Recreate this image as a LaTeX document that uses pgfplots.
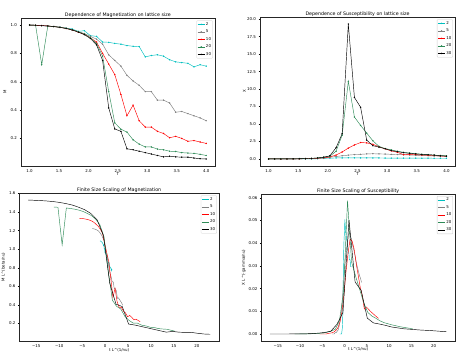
\documentclass[border=0pt]{standalone}
\usepackage{fontspec}
\setmainfont{DejaVu Sans}
\usepackage{pgfplots}
\usepackage{pgfplotstable}
\pgfplotsset{compat=1.18}
\definecolor{cC}{HTML}{00BFBF}
\definecolor{cG}{HTML}{808080}
\definecolor{cR}{HTML}{FF0000}
\definecolor{cS}{HTML}{2E8B57}
\definecolor{cK}{HTML}{000000}
\newcommand{\caret}{\textasciicircum{}}

\pgfplotstableread{
T m2 m5 m10 m20 m30
1.000 1.000 1.000 1.000 1.000 1.000
1.103 0.998 0.998 0.998 0.998 0.998
1.207 0.995 0.996 0.996 0.720 0.996
1.310 0.992 0.993 0.993 0.993 0.993
1.414 0.989 0.989 0.989 0.989 0.989
1.517 0.985 0.984 0.984 0.984 0.983
1.621 0.978 0.977 0.976 0.977 0.975
1.724 0.972 0.967 0.966 0.967 0.965
1.828 0.955 0.953 0.950 0.953 0.950
1.931 0.960 0.940 0.935 0.937 0.932
2.034 0.925 0.920 0.910 0.910 0.905
2.138 0.920 0.900 0.880 0.870 0.860
2.241 0.880 0.865 0.800 0.780 0.750
2.345 0.878 0.790 0.725 0.530 0.415
2.448 0.870 0.750 0.650 0.310 0.267
2.552 0.865 0.710 0.510 0.265 0.250
2.655 0.855 0.645 0.360 0.245 0.127
2.759 0.850 0.605 0.435 0.190 0.120
2.862 0.848 0.575 0.325 0.160 0.110
2.966 0.775 0.530 0.280 0.140 0.100
3.069 0.785 0.530 0.280 0.140 0.090
3.172 0.790 0.470 0.250 0.125 0.080
3.276 0.780 0.470 0.235 0.120 0.070
3.379 0.755 0.450 0.205 0.110 0.075
3.483 0.740 0.385 0.215 0.108 0.070
3.586 0.735 0.390 0.200 0.100 0.068
3.690 0.730 0.375 0.180 0.097 0.068
3.793 0.705 0.360 0.185 0.095 0.062
3.897 0.720 0.345 0.175 0.088 0.057
4.000 0.710 0.325 0.165 0.080 0.055
}\magtable

\pgfplotstableread{
T c2 c5 c10 c20 c30
1.000 0.00 0.00 0.00 0.00 0.00
1.103 0.00 0.00 0.00 0.00 0.00
1.207 0.00 0.00 0.00 0.02 0.00
1.310 0.00 0.01 0.00 0.01 0.01
1.414 0.00 0.01 0.01 0.02 0.02
1.517 0.00 0.02 0.02 0.03 0.03
1.621 0.005 0.03 0.03 0.05 0.05
1.724 0.01 0.06 0.05 0.08 0.08
1.828 0.03 0.10 0.09 0.15 0.14
1.931 0.08 0.16 0.16 0.25 0.25
2.034 0.12 0.25 0.30 0.40 0.45
2.138 0.14 0.35 0.55 1.10 1.60
2.241 0.15 0.45 1.00 3.40 3.60
2.345 0.17 0.55 1.55 11.10 19.30
2.448 0.16 0.62 2.00 6.00 8.80
2.552 0.15 0.66 2.35 4.80 7.40
2.655 0.15 0.72 2.30 3.70 2.70
2.759 0.14 0.75 2.10 2.60 1.90
2.862 0.14 0.72 1.75 1.80 1.70
2.966 0.13 0.70 1.45 1.50 1.45
3.069 0.13 0.66 1.15 1.30 1.20
3.172 0.12 0.63 0.95 1.10 1.05
3.276 0.12 0.60 0.62 0.95 0.90
3.379 0.12 0.56 0.67 0.85 0.80
3.483 0.11 0.52 0.62 0.75 0.72
3.586 0.11 0.49 0.56 0.68 0.65
3.690 0.11 0.46 0.52 0.60 0.60
3.793 0.10 0.43 0.47 0.55 0.55
3.897 0.10 0.41 0.43 0.50 0.45
4.000 0.10 0.38 0.39 0.45 0.40
}\chitable

\pgfplotstableread{
x2 y2 x5 y5 x10 y10 x20 y20 x30 y30
-1.119 1.0905 -2.797 1.2228 -5.593 1.3335 -11.186 1.4542 -16.779 1.5298
-1.027 1.0883 -2.569 1.2204 -5.137 1.3308 -10.274 1.4513 -15.411 1.5267
-0.936 1.0850 -2.341 1.2179 -4.681 1.3282 -9.362 1.0470 -14.043 1.5237
-0.845 1.0818 -2.113 1.2142 -4.225 1.3242 -8.450 1.4440 -12.675 1.5191
-0.754 1.0785 -1.885 1.2094 -3.769 1.3188 -7.538 1.4382 -11.307 1.5130
-0.663 1.0741 -1.657 1.2032 -3.313 1.3122 -6.626 1.4309 -9.939 1.5038
-0.571 1.0665 -1.429 1.1947 -2.857 1.3015 -5.714 1.4208 -8.571 1.4916
-0.480 1.0600 -1.201 1.1824 -2.401 1.2882 -4.802 1.4062 -7.203 1.4763
-0.389 1.0414 -0.973 1.1653 -1.945 1.2668 -3.890 1.3859 -5.835 1.4533
-0.298 1.0469 -0.745 1.1494 -1.490 1.2468 -2.980 1.3626 -4.470 1.4258
-0.207 1.0087 -0.517 1.1250 -1.034 1.2135 -2.068 1.3233 -3.102 1.3845
-0.116 1.0033 -0.289 1.1005 -0.578 1.1735 -1.156 1.2652 -1.734 1.3156
-0.024 0.9596 -0.061 1.0577 -0.122 1.0668 -0.244 1.1343 -0.366 1.1474
0.067 0.9575 0.167 0.9660 0.334 0.9668 0.668 0.7707 1.002 0.6349
0.158 0.9487 0.395 0.9171 0.790 0.8668 1.580 0.4508 2.370 0.4085
0.249 0.9433 0.623 0.8682 1.246 0.6801 2.492 0.3854 3.738 0.3825
0.340 0.9324 0.851 0.7887 1.702 0.4801 3.404 0.3563 5.106 0.1943
0.432 0.9269 1.079 0.7398 2.158 0.5801 4.316 0.2763 6.474 0.1836
0.523 0.9247 1.307 0.7031 2.614 0.4334 5.228 0.2327 7.842 0.1683
0.614 0.8451 1.535 0.6481 3.070 0.3734 6.140 0.2036 9.210 0.1530
0.705 0.8560 1.763 0.6481 3.526 0.3734 7.052 0.2036 10.578 0.1377
0.796 0.8615 1.991 0.5747 3.982 0.3334 7.964 0.1818 11.946 0.1224
0.888 0.8506 2.219 0.5747 4.438 0.3134 8.876 0.1745 13.314 0.1071
0.979 0.8233 2.447 0.5503 4.893 0.2734 9.786 0.1600 14.679 0.1147
1.070 0.8070 2.675 0.4708 5.349 0.2867 10.698 0.1571 16.047 0.1071
1.161 0.8015 2.903 0.4769 5.805 0.2667 11.610 0.1454 17.415 0.1040
1.252 0.7961 3.131 0.4586 6.261 0.2400 12.522 0.1411 18.783 0.1040
1.343 0.7688 3.359 0.4402 6.717 0.2467 13.434 0.1381 20.151 0.0948
1.435 0.7852 3.587 0.4219 7.173 0.2334 14.346 0.1280 21.519 0.0872
1.526 0.7743 3.815 0.3974 7.629 0.2200 15.258 0.1163 22.887 0.0841
}\fssmag

\pgfplotstableread{
x2 y2 x5 y5 x10 y10 x20 y20 x30 y30
-1.119 0.0000 -2.797 0.0000 -5.593 0.0000 -11.186 0.0000 -16.779 0.0000
-1.027 0.0000 -2.569 0.0000 -5.137 0.0000 -10.274 0.0000 -15.411 0.0000
-0.936 0.0000 -2.341 0.0000 -4.681 0.0000 -9.362 0.0001 -14.043 0.0000
-0.845 0.0000 -2.113 0.0006 -4.225 0.0000 -8.450 0.0001 -12.675 0.0000
-0.754 0.0000 -1.885 0.0006 -3.769 0.0002 -7.538 0.0001 -11.307 0.0001
-0.663 0.0000 -1.657 0.0012 -3.313 0.0004 -6.626 0.0002 -9.939 0.0001
-0.571 0.0015 -1.429 0.0018 -2.857 0.0005 -5.714 0.0003 -8.571 0.0001
-0.480 0.0030 -1.201 0.0036 -2.401 0.0009 -4.802 0.0004 -7.203 0.0002
-0.389 0.0089 -0.973 0.0060 -1.945 0.0016 -3.890 0.0008 -5.835 0.0004
-0.298 0.0238 -0.745 0.0096 -1.490 0.0028 -2.980 0.0013 -4.470 0.0007
-0.207 0.0357 -0.517 0.0150 -1.034 0.0053 -2.068 0.0021 -3.102 0.0012
-0.116 0.0416 -0.289 0.0209 -0.578 0.0098 -1.156 0.0058 -1.734 0.0042
-0.024 0.0446 -0.061 0.0269 -0.122 0.0178 -0.244 0.0180 -0.366 0.0094
0.067 0.0505 0.167 0.0329 0.334 0.0276 0.668 0.0587 1.002 0.0502
0.158 0.0476 0.395 0.0371 0.790 0.0356 1.580 0.0317 2.370 0.0229
0.249 0.0446 0.623 0.0395 1.246 0.0418 2.492 0.0254 3.738 0.0192
0.340 0.0446 0.851 0.0431 1.702 0.0409 3.404 0.0196 5.106 0.0070
0.432 0.0416 1.079 0.0449 2.158 0.0373 4.316 0.0137 6.474 0.0049
0.523 0.0416 1.307 0.0431 2.614 0.0311 5.228 0.0095 7.842 0.0044
0.614 0.0386 1.535 0.0419 3.070 0.0258 6.140 0.0079 9.210 0.0038
0.705 0.0386 1.763 0.0395 3.526 0.0205 7.052 0.0069 10.578 0.0031
0.796 0.0357 1.991 0.0377 3.982 0.0169 7.964 0.0058 11.946 0.0027
0.888 0.0357 2.219 0.0359 4.438 0.0110 8.876 0.0050 13.314 0.0023
0.979 0.0357 2.447 0.0335 4.893 0.0119 9.786 0.0045 14.679 0.0021
1.070 0.0327 2.675 0.0311 5.349 0.0110 10.698 0.0040 16.047 0.0019
1.161 0.0327 2.903 0.0293 5.805 0.0100 11.610 0.0036 17.415 0.0017
1.252 0.0327 3.131 0.0275 6.261 0.0092 12.522 0.0032 18.783 0.0016
1.343 0.0297 3.359 0.0257 6.717 0.0084 13.434 0.0029 20.151 0.0014
1.435 0.0297 3.587 0.0245 7.173 0.0076 14.346 0.0026 21.519 0.0012
1.526 0.0297 3.815 0.0227 7.629 0.0069 15.258 0.0024 22.887 0.0010
}\fsschi

\pgfplotsset{
  panel/.style={
    scale only axis,
    axis line style={line width=0.3pt, black!85},
    tick style={line width=0.3pt, black},
    tick align=outside,
    major tick length=1.1pt,
    xtick pos=bottom, ytick pos=left,
    scaled ticks=false,
    font=\fontsize{3.95}{4.6}\selectfont,
    /pgf/number format/assume math mode=true,
    title style={font=\fontsize{4.75}{5.5}\selectfont, at={(axis description cs:0.5,1)}, anchor=base, yshift=-4.1pt, inner sep=0pt},
    xlabel style={font=\fontsize{3.95}{4.6}\selectfont, at={(axis description cs:0.5,0)}, anchor=base, yshift=-10.3pt, inner sep=0pt},
    ylabel style={font=\fontsize{3.95}{4.6}\selectfont, anchor=center, inner sep=0pt},
    xticklabel style={anchor=base, yshift=-5.8pt, inner sep=0pt},
    yticklabel style={anchor=east, xshift=-2.4pt, inner sep=0pt},
    legend style={at={(0.988,0.985)}, anchor=north east, draw=black!20,
      rounded corners=0.6pt, line width=0.3pt, fill=white,
      font=\fontsize{3.95}{4.6}\selectfont, inner sep=0.6pt,
      row sep=1.3pt, nodes={inner sep=0.9pt}},
    legend cell align=left,
    every axis plot/.append style={line width=0.45pt},
  },
  toplegend/.style={legend image code/.code={%
    \draw[mark repeat=2,mark phase=2] plot coordinates {(0pt,0pt) (3.6pt,0pt) (7.2pt,0pt)};}},
  botlegend/.style={legend image code/.code={%
    \draw plot coordinates {(0pt,0pt) (7.2pt,0pt)};}},
  dotmark/.style={mark=*, mark size=0.45pt},
}

\begin{document}
\begin{tikzpicture}
\useasboundingbox (0pt,0pt) rectangle (474pt,361pt);

% Top-left
\begin{axis}[panel, toplegend, at={(20.7pt,195.3pt)}, anchor=south west,
  width=194.3pt, height=147.4pt,
  xmin=0.85, xmax=4.15, ymin=0.0078, ymax=1.0473,
  xtick={1.0,1.5,2.0,2.5,3.0,3.5,4.0},
  xticklabels={1.0,1.5,2.0,2.5,3.0,3.5,4.0},
  ytick={0.2,0.4,0.6,0.8,1.0},
  yticklabels={0.2,0.4,0.6,0.8,1.0},
  ylabel style={at={(axis description cs:-0.081,0.5)}},
  title={Dependence of Magnetization on lattice size},
  xlabel={T}, ylabel={M}]
\addplot[cC, dotmark] table[x=T, y=m2] {\magtable};
\addplot[cG, dotmark] table[x=T, y=m5] {\magtable};
\addplot[cR, dotmark] table[x=T, y=m10] {\magtable};
\addplot[cS, dotmark] table[x=T, y=m20] {\magtable};
\addplot[cK, dotmark] table[x=T, y=m30] {\magtable};
\legend{2,5,10,20,30}
\end{axis}

% Top-right
\begin{axis}[panel, toplegend, at={(259.7pt,195.3pt)}, anchor=south west,
  width=195.6pt, height=148.4pt,
  xmin=0.85, xmax=4.15, ymin=-0.965, ymax=20.265,
  xtick={1.0,1.5,2.0,2.5,3.0,3.5,4.0},
  xticklabels={1.0,1.5,2.0,2.5,3.0,3.5,4.0},
  ytick={0,2.5,5,7.5,10,12.5,15,17.5,20},
  yticklabels={0.0,2.5,5.0,7.5,10.0,12.5,15.0,17.5,20.0},
  ylabel style={at={(axis description cs:-0.078,0.5)}},
  title={Dependence of Susceptibility on lattice size},
  xlabel={T}, ylabel={X}]
\addplot[cC, dotmark] table[x=T, y=c2] {\chitable};
\addplot[cG, dotmark] table[x=T, y=c5] {\chitable};
\addplot[cR, dotmark] table[x=T, y=c10] {\chitable};
\addplot[cS, dotmark] table[x=T, y=c20] {\chitable};
\addplot[cK, dotmark] table[x=T, y=c30] {\chitable};
\legend{2,5,10,20,30}
\end{axis}

% Bottom-left
\begin{axis}[panel, botlegend, at={(19pt,20pt)}, anchor=south west,
  width=200.3pt, height=147.7pt,
  xmin=-18.762, xmax=24.870, ymin=0.0118, ymax=1.6021,
  xtick={-15,-10,-5,0,5,10,15,20},
  xticklabels={−15,−10,−5,0,5,10,15,20},
  ytick={0.2,0.4,0.6,0.8,1.0,1.2,1.4,1.6},
  yticklabels={0.2,0.4,0.6,0.8,1.0,1.2,1.4,1.6},
  ylabel style={at={(axis description cs:-0.078,0.5)}},
  title={Finite Size Scaling of Magnetization},
  xlabel={t L\caret(1/nu)}, ylabel={M L\caret(beta/nu)}]
\addplot[cC] table[x=x2, y=y2] {\fssmag};
\addplot[cG] table[x=x5, y=y5] {\fssmag};
\addplot[cR] table[x=x10, y=y10] {\fssmag};
\addplot[cS] table[x=x20, y=y20] {\fssmag};
\addplot[cK] table[x=x30, y=y30] {\fssmag};
\legend{2,5,10,20,30}
\end{axis}

% Bottom-right
\begin{axis}[panel, botlegend, at={(261pt,20.3pt)}, anchor=south west,
  width=194.3pt, height=146.7pt,
  xmin=-18.762, xmax=24.870, ymin=-0.00294, ymax=0.06164,
  xtick={-15,-10,-5,0,5,10,15,20},
  xticklabels={−15,−10,−5,0,5,10,15,20},
  ytick={0,0.01,0.02,0.03,0.04,0.05,0.06},
  yticklabels={0.00,0.01,0.02,0.03,0.04,0.05,0.06},
  ylabel style={at={(axis description cs:-0.089,0.5)}},
  title={Finite Size Scaling of Susceptibility},
  xlabel={t L\caret(1/nu)}, ylabel={X L\caret(-gamma/nu)}]
\addplot[cC] table[x=x2, y=y2] {\fsschi};
\addplot[cG] table[x=x5, y=y5] {\fsschi};
\addplot[cR] table[x=x10, y=y10] {\fsschi};
\addplot[cS] table[x=x20, y=y20] {\fsschi};
\addplot[cK] table[x=x30, y=y30] {\fsschi};
\legend{2,5,10,20,30}
\end{axis}
\end{tikzpicture}
\end{document}
